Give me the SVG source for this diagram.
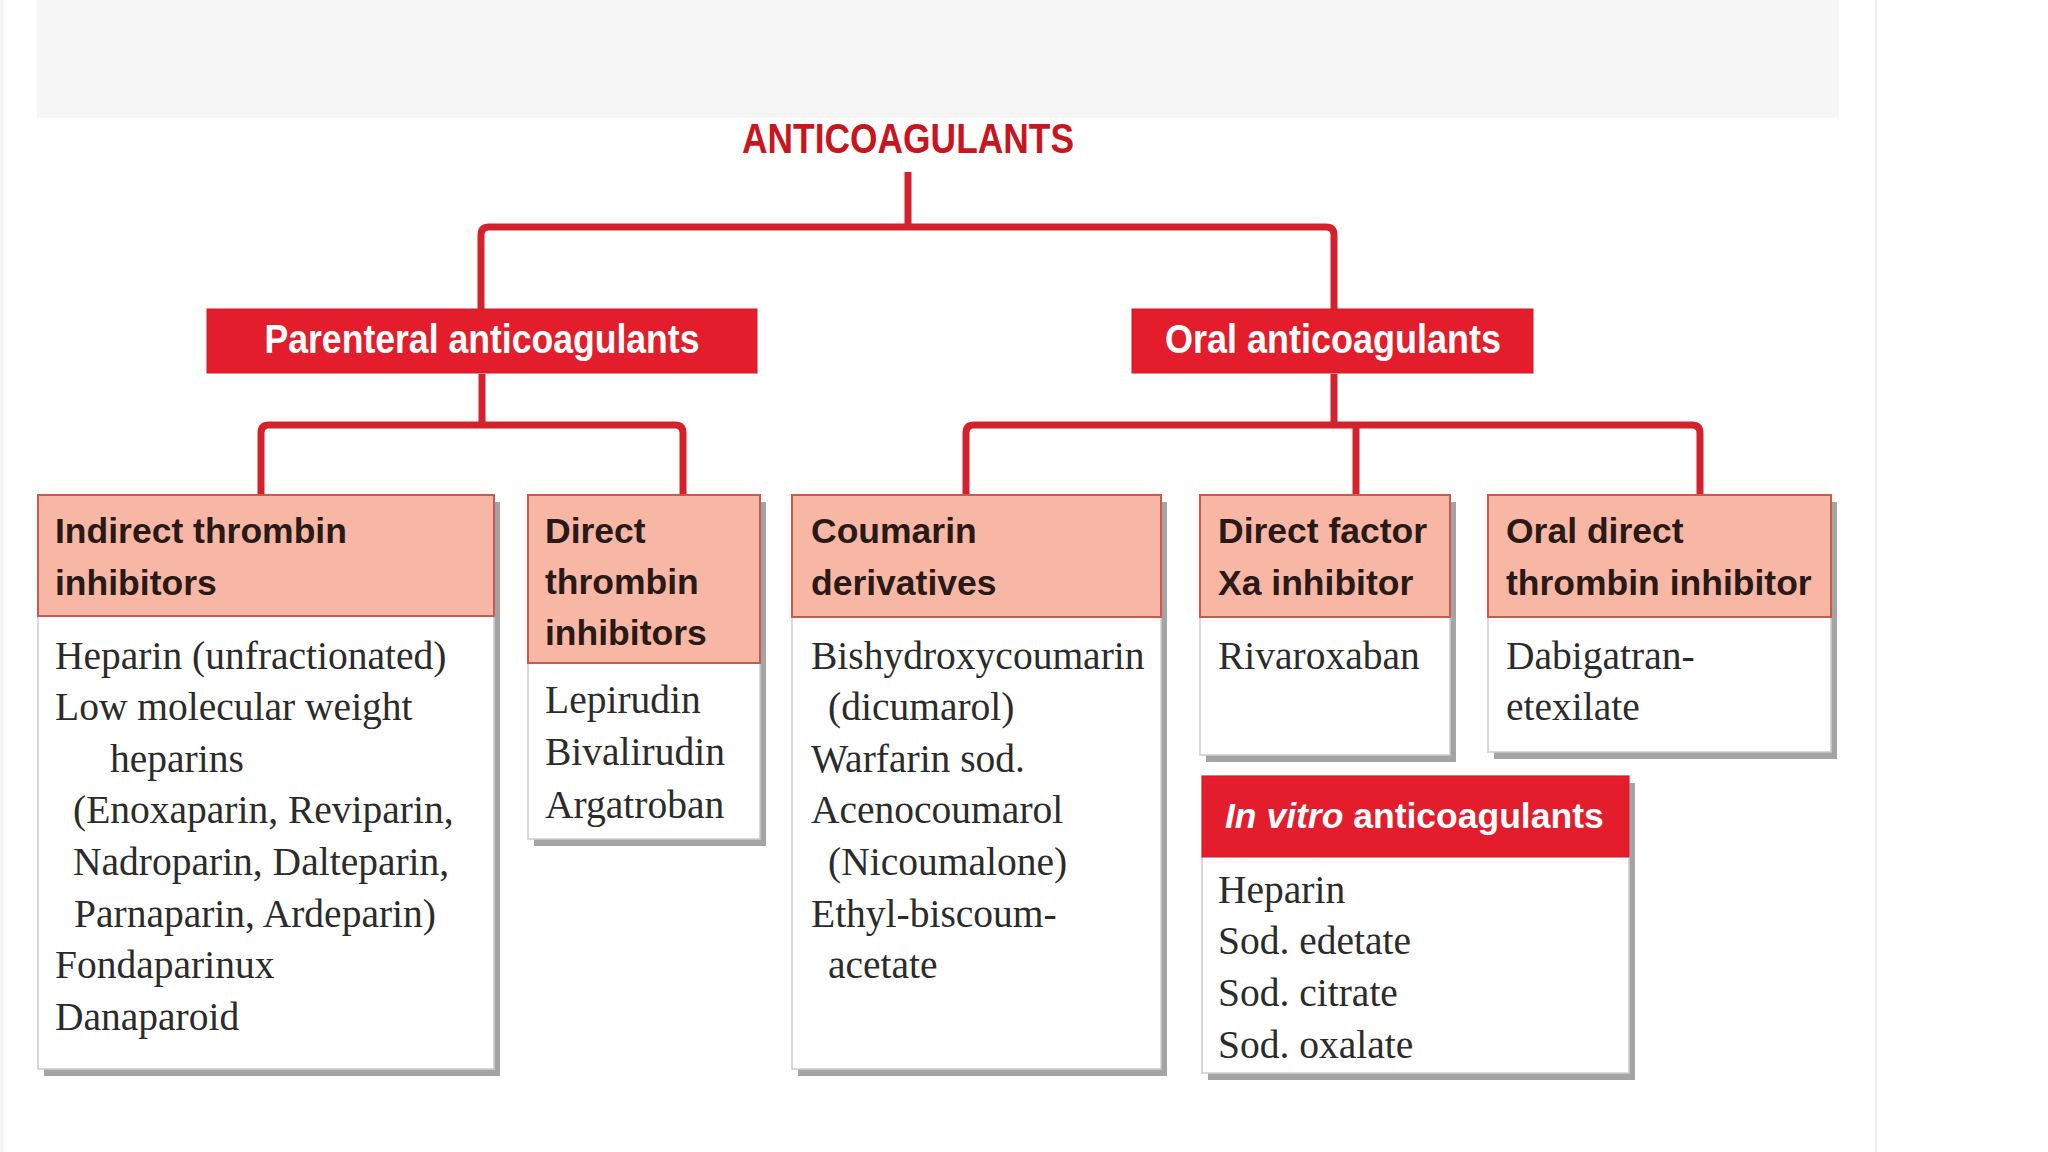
<svg xmlns="http://www.w3.org/2000/svg" width="2048" height="1152" viewBox="0 0 2048 1152">
<style>
.conn{fill:none;stroke:#d4222d;stroke-width:7;stroke-linejoin:round;stroke-linecap:butt}
.shadow{fill:#a4a4a4}
.body{fill:#ffffff;stroke:#cccccc;stroke-width:1.5}
.hdr{fill:#f8b6a4;stroke:#c95a4f;stroke-width:2}
.rhdr{fill:#e31d2b;stroke:#d11a27;stroke-width:1}
.ht{font-family:"Liberation Sans",Arial,sans-serif;font-weight:bold;font-size:35.5px;fill:#2a1a17}
.wt{font-family:"Liberation Sans",Arial,sans-serif;font-weight:bold;font-size:41px;fill:#ffffff;text-anchor:middle}
.bt{font-family:"Liberation Serif","Times New Roman",serif;font-size:39.5px;fill:#2b2b2b}
</style>
<rect x="0" y="0" width="2048" height="1152" fill="#ffffff"/>
<rect x="37" y="0" width="1802" height="118" fill="#f6f6f6"/>
<line x1="1876" y1="0" x2="1876" y2="1152" stroke="#efefef" stroke-width="2"/>
<line x1="2" y1="0" x2="2" y2="1152" stroke="#f2f2f2" stroke-width="3"/>

<g id="connectors">
<path class="conn" d="M908 172 V227"/>
<path class="conn" d="M481 310 V235 Q481 227 489 227 H1326 Q1334 227 1334 235 V310"/>
<path class="conn" d="M482 374 V425"/>
<path class="conn" d="M261 496 V433 Q261 425 269 425 H675 Q683 425 683 433 V496"/>
<path class="conn" d="M1334 374 V425"/>
<path class="conn" d="M966 496 V433 Q966 425 974 425 H1692 Q1700 425 1700 433 V496"/>
<path class="conn" d="M1356 425 V496"/>
</g>

<g id="title">
<text x="908" y="153" text-anchor="middle" textLength="332" lengthAdjust="spacingAndGlyphs" style="font-family:'Liberation Sans',Arial,sans-serif;font-weight:bold;font-size:43px;fill:#c8161f">ANTICOAGULANTS</text>
</g>

<g id="parenteral">
<rect class="rhdr" x="207" y="309" width="550" height="64"/>
<text class="wt" x="482" y="353" textLength="435" lengthAdjust="spacingAndGlyphs">Parenteral anticoagulants</text>
</g>

<g id="oral">
<rect class="rhdr" x="1132" y="309" width="401" height="64"/>
<text class="wt" x="1333" y="353" textLength="336" lengthAdjust="spacingAndGlyphs">Oral anticoagulants</text>
</g>

<g id="indirect">
<rect class="shadow" x="44" y="502" width="456" height="574"/>
<rect class="body" x="38" y="495" width="456" height="574"/>
<rect class="hdr" x="38" y="495" width="456" height="121"/>
<text class="ht" x="55" y="543">Indirect thrombin</text>
<text class="ht" x="55" y="595">inhibitors</text>
<text class="bt" x="55" y="669">Heparin (unfractionated)</text>
<text class="bt" x="55" y="720">Low molecular weight</text>
<text class="bt" x="110" y="772">heparins</text>
<text class="bt" x="73" y="823">(Enoxaparin, Reviparin,</text>
<text class="bt" x="73" y="875">Nadroparin, Dalteparin,</text>
<text class="bt" x="74" y="927">Parnaparin, Ardeparin)</text>
<text class="bt" x="55" y="978">Fondaparinux</text>
<text class="bt" x="55" y="1030">Danaparoid</text>
</g>

<g id="direct-thrombin">
<rect class="shadow" x="534" y="502" width="232" height="344"/>
<rect class="body" x="528" y="495" width="232" height="344"/>
<rect class="hdr" x="528" y="495" width="232" height="168"/>
<text class="ht" x="545" y="543">Direct</text>
<text class="ht" x="545" y="594">thrombin</text>
<text class="ht" x="545" y="645">inhibitors</text>
<text class="bt" x="545" y="713">Lepirudin</text>
<text class="bt" x="545" y="765">Bivalirudin</text>
<text class="bt" x="545" y="818">Argatroban</text>
</g>

<g id="coumarin">
<rect class="shadow" x="798" y="502" width="369" height="574"/>
<rect class="body" x="792" y="495" width="369" height="574"/>
<rect class="hdr" x="792" y="495" width="369" height="122"/>
<text class="ht" x="811" y="543">Coumarin</text>
<text class="ht" x="811" y="595">derivatives</text>
<text class="bt" x="811" y="669">Bishydroxycoumarin</text>
<text class="bt" x="828" y="720">(dicumarol)</text>
<text class="bt" x="811" y="772">Warfarin sod.</text>
<text class="bt" x="811" y="823">Acenocoumarol</text>
<text class="bt" x="828" y="875">(Nicoumalone)</text>
<text class="bt" x="811" y="927">Ethyl-biscoum-</text>
<text class="bt" x="828" y="978">acetate</text>
</g>

<g id="factor-xa">
<rect class="shadow" x="1206" y="502" width="250" height="260"/>
<rect class="body" x="1200" y="495" width="250" height="260"/>
<rect class="hdr" x="1200" y="495" width="250" height="122"/>
<text class="ht" x="1218" y="543">Direct factor</text>
<text class="ht" x="1218" y="595">Xa inhibitor</text>
<text class="bt" x="1218" y="669">Rivaroxaban</text>
</g>

<g id="oral-direct">
<rect class="shadow" x="1494" y="502" width="343" height="257"/>
<rect class="body" x="1488" y="495" width="343" height="257"/>
<rect class="hdr" x="1488" y="495" width="343" height="122"/>
<text class="ht" x="1506" y="543">Oral direct</text>
<text class="ht" x="1506" y="595">thrombin inhibitor</text>
<text class="bt" x="1506" y="669">Dabigatran-</text>
<text class="bt" x="1506" y="720">etexilate</text>
</g>

<g id="in-vitro">
<rect class="shadow" x="1208" y="783" width="427" height="297"/>
<rect class="body" x="1202" y="776" width="427" height="297"/>
<rect class="rhdr" x="1202" y="776" width="427" height="81"/>
<text x="1225" y="828" style="font-family:'Liberation Sans',Arial,sans-serif;font-weight:bold;font-size:35.5px;fill:#ffffff"><tspan font-style="italic">In vitro</tspan> anticoagulants</text>
<text class="bt" x="1218" y="903">Heparin</text>
<text class="bt" x="1218" y="954">Sod. edetate</text>
<text class="bt" x="1218" y="1006">Sod. citrate</text>
<text class="bt" x="1218" y="1058">Sod. oxalate</text>
</g>
</svg>
